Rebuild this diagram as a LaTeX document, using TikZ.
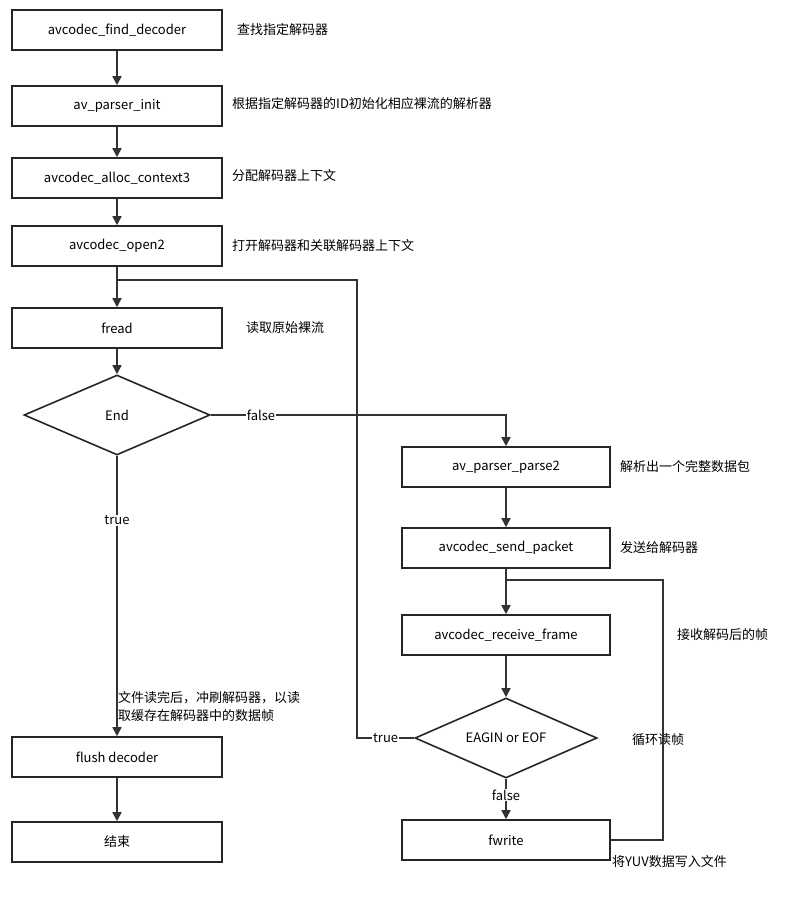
\documentclass[tikz,border=0pt]{standalone}
\usepackage{fontspec}
\setmainfont{Noto Sans CJK SC}
\usetikzlibrary{shapes.geometric,arrows.meta}
\begin{document}
\begin{tikzpicture}[x=1pt,y=-1pt,
  box/.style={draw=black!85,line width=1.6pt,minimum width=210pt,minimum height=40pt,font=\fontsize{13}{15}\selectfont,inner sep=0pt},
  dia/.style={draw=black!85,line width=1.6pt,diamond,aspect=2.3,minimum width=186pt,minimum height=80pt,inner sep=0pt,font=\fontsize{13}{15}\selectfont},
  ln/.style={draw=black!80,line width=1.6pt},
  ar/.style={ln,-{Triangle[length=9pt,width=9pt]}},
  lab/.style={font=\fontsize{13}{15}\selectfont,anchor=west,inner sep=0pt},
  lb/.style={font=\fontsize{13}{15}\selectfont,fill=white,inner sep=1pt}]
\useasboundingbox (0,0) rectangle (798,902);
\node[box] (a) at (117,30) {avcodec\_find\_decoder};
\node[box] (b) at (117,106) {av\_parser\_init};
\node[box] (c) at (117,178) {avcodec\_alloc\_context3};
\node[box] (d) at (117,246) {avcodec\_open2};
\node[box] (e) at (117,328) {fread};
\node[dia] (f) at (117,415) {End};
\node[box] (g) at (117,757) {flush decoder};
\node[box] (h) at (117,842) {结束};
\node[box,minimum width=208pt] (p) at (506,467) {av\_parser\_parse2};
\node[box,minimum width=208pt] (s) at (506,548) {avcodec\_send\_packet};
\node[box,minimum width=208pt] (r) at (506,635) {avcodec\_receive\_frame};
\node[dia,minimum width=182pt] (q) at (506,738) {EAGIN or EOF};
\node[box,minimum width=208pt] (w) at (506,840) {fwrite};
\node[lab] at (237,30) {查找指定解码器};
\node[lab] at (232,104) {根据指定解码器的ID初始化相应裸流的解析器};
\node[lab] at (232,176) {分配解码器上下文};
\node[lab] at (232,246) {打开解码器和关联解码器上下文};
\node[lab] at (246,328) {读取原始裸流};
\node[lab] at (620,467) {解析出一个完整数据包};
\node[lab] at (620,548) {发送给解码器};
\node[lab] at (677,635) {接收解码后的帧};
\node[lab] at (632,740) {循环读帧};
\node[lab] at (612,862) {将YUV数据写入文件};
\node[font=\fontsize{13}{18}\selectfont,align=left,fill=white,inner sep=1pt,anchor=west] at (117,707) {文件读完后，冲刷解码器，以读\\取缓存在解码器中的数据帧};
\coordinate (j1) at (117,280);
\coordinate (j2) at (506,580);
\draw[ar] (a) -- (b);
\draw[ar] (b) -- (c);
\draw[ar] (c) -- (d);
\draw[ar] (d) -- (e);
\draw[ar] (e) -- (f);
\draw[ar] (f) -- node[lb,pos=0.23]{true} (g);
\draw[ar] (g) -- (h);
\draw[ar] (f.east) -- node[lb,pos=0.17]{false} (506,415) -- (p);
\draw[ar] (p) -- (s);
\draw[ar] (s) -- (r);
\draw[ar] (r) -- (q);
\draw[ar] (q) -- node[lb,pos=0.4]{false} (w);
\draw[ln] (q.west) -- node[lb,pos=0.5]{true} (357,738) -- (357,280) -- (j1);
\draw[ln] (w.east) -- (663,840) -- (663,580) -- (j2);
\end{tikzpicture}
\end{document}
